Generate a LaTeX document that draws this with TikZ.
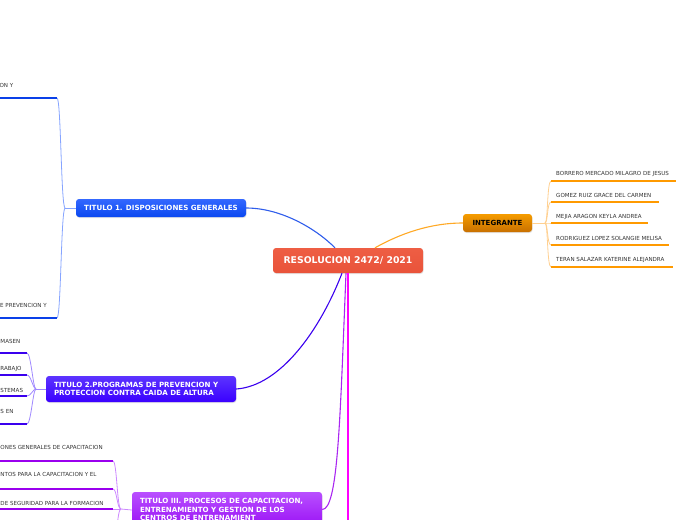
\documentclass[tikz,border=0pt]{standalone}
\usepackage{fontspec}
\setmainfont{DejaVu Sans}
\usetikzlibrary{shadows}
\definecolor{cred}{HTML}{E9533A}
\definecolor{credtop}{HTML}{EE5E44}
\definecolor{bluetop}{HTML}{3468FF}
\definecolor{bluebot}{HTML}{0A48F0}
\definecolor{indtop}{HTML}{5C34FF}
\definecolor{indbot}{HTML}{3A00FF}
\definecolor{purtop}{HTML}{B94FFF}
\definecolor{purbot}{HTML}{9A12F5}
\definecolor{ortop}{HTML}{F59C00}
\definecolor{orbot}{HTML}{C87000}
\definecolor{bluel}{HTML}{0A40E8}
\definecolor{indl}{HTML}{3A00EE}
\definecolor{purl}{HTML}{9A00EE}
\definecolor{orl}{HTML}{FF9A00}
\definecolor{bluebr}{HTML}{86A4FF}
\definecolor{indbr}{HTML}{9F88FF}
\definecolor{purbr}{HTML}{CC88FF}
\definecolor{orbr}{HTML}{FFD090}
\definecolor{labc}{HTML}{333333}
\definecolor{magl}{HTML}{FF00FF}
\begin{document}
\begin{tikzpicture}[x=1pt,y=-1pt,
  topic/.style={rounded corners=3pt, inner sep=0pt, text=white,
    font=\bfseries\fontsize{7.1}{8.4}\selectfont,
    drop shadow={shadow xshift=0.5pt,shadow yshift=-1pt,opacity=0.22}},
  lab/.style={inner sep=0pt, text=labc, font=\fontsize{5.55}{6}\selectfont},
  uline/.style={line width=2.2pt},
  brline/.style={line width=0.8pt},
  mainline/.style={line width=1.1pt}
]
\useasboundingbox (0,0) rectangle (697,520);
\clip (0,0) rectangle (697,520);

\coordinate (mend) at (348,522);

% ---------------- nodes
\node[topic, top color=credtop, bottom color=cred, minimum width=150pt, minimum height=25pt,
  font=\bfseries\fontsize{9.3}{11}\selectfont] (c) at (348,260.5) {RESOLUCION 2472/ 2021};
\node[topic, top color=bluetop, bottom color=bluebot, minimum width=170pt, minimum height=18pt] (t1) at (161,208) {TITULO 1. DISPOSICIONES GENERALES};
\node[topic, top color=indtop, bottom color=indbot, minimum width=190pt, minimum height=26pt,
  text width=174pt, align=left] (t2) at (141,389) {TITULO 2.PROGRAMAS DE PREVENCION Y\\PROTECCION CONTRA CAIDA DE ALTURA};
\node[topic, top color=purtop, bottom color=purbot, minimum width=190pt, minimum height=35pt,
  text width=174pt, align=left] (t3) at (227,509.5) {TITULO III. PROCESOS DE CAPACITACION,\\ENTRENAMIENTO Y GESTION DE LOS\\CENTROS DE ENTRENAMIENT};
\node[topic, top color=ortop, bottom color=orbot, minimum width=69pt, minimum height=18pt, text=black,
  font=\bfseries\fontsize{7}{8}\selectfont] (ig) at (497.5,223) {INTEGRANTE};

% ---------------- main connectors
\draw[mainline, draw=bluel!85!white] (t1.east) .. controls +(34,0) and +(-20,-20) .. ([xshift=-13pt]c.north);
\draw[mainline, draw=orl!85!white] ([xshift=27pt]c.north) .. controls +(25,-14) and +(-33,0) .. (ig.west);
\draw[mainline, draw=indl] (t2.east) .. controls +(44,-3) and +(-22,57) .. ([xshift=-6pt]c.south);
\draw[mainline, draw=purl!85!white] ([xshift=-2pt]c.south) .. controls +(-6,147) and +(16,0) .. (t3.east);
\draw[line width=2pt, draw=magl] (c.south) -- (mend);

% ---------------- INTEGRANTE children
\coordinate (igs) at (545,223);
\foreach \n/\y/\xe in {1/181/676, 2/202/659, 3/223/648, 4/245/669, 5/267/673}{
  \coordinate (i\n) at (551,\y);
  \coordinate (ie\n) at (\xe,\y);
}
\draw[brline, draw=orbr] (ig.east) -- (igs);
\foreach \n in {1,...,5}{
  \draw[brline, draw=orbr] (igs) .. controls +(3,0) and +(-4,0) .. (i\n);
  \draw[uline, draw=orl] (i\n) -- (ie\n);
}
\node[lab, anchor=west] (n1) at (556,174) {BORRERO MERCADO MILAGRO DE JESUS};
\node[lab, anchor=west] (n2) at (556,195) {GOMEZ RUIZ GRACE DEL CARMEN};
\node[lab, anchor=west] (n3) at (556,217) {MEJIA ARAGON KEYLA ANDREA};
\node[lab, anchor=west] (n4) at (556,238) {RODRIGUEZ LOPEZ SOLANGIE MELISA};
\node[lab, anchor=west] (n5) at (556,259.5) {TERAN SALAZAR KATERINE ALEJANDRA};

% ---------------- TITULO 1 children
\coordinate (t1s) at (65,208);
\coordinate (a1) at (57,98);   \coordinate (a1l) at (-2,98);
\coordinate (a2) at (57,318);  \coordinate (a2l) at (-2,318);
\draw[brline, draw=bluebr] (t1.west) -- (t1s);
\draw[brline, draw=bluebr] (t1s) .. controls +(-4,-2) and +(4,0) .. (a1);
\draw[brline, draw=bluebr] (t1s) .. controls +(-4,2) and +(4,0) .. (a2);
\draw[uline, draw=bluel] (a1l) -- (a1);
\draw[uline, draw=bluel] (a2l) -- (a2);
\node[lab, anchor=east] (b1) at (13.5,85) {ON Y};
\node[lab, anchor=east] (b2) at (47,305) {E PREVENCION Y};

% ---------------- TITULO 2 children
\coordinate (t2s) at (36,389);
\draw[brline, draw=indbr] (t2.west) -- (t2s);
\foreach \n/\y in {1/353, 2/375, 3/396, 4/424}{
  \coordinate (p\n) at (27,\y);
  \coordinate (pl\n) at (-2,\y);
  \draw[brline, draw=indbr] (t2s) .. controls +(-3,0) and +(4,0) .. (p\n);
  \draw[uline, draw=indl] (pl\n) -- (p\n);
}
\node[lab, anchor=west] (d1) at (0.3,341) {MASEN};
\node[lab, anchor=west] (d2) at (0.3,369) {RABAJO};
\node[lab, anchor=west] (d3) at (0.3,390) {STEMAS};
\node[lab, anchor=west] (d4) at (0.3,411) {S EN};

% ---------------- TITULO III children
\coordinate (t3s) at (121,509);
\draw[brline, draw=purbr] ([yshift=-0.5pt]t3.west) -- (t3s);
\foreach \n/\y in {1/461, 2/489, 3/509}{
  \coordinate (q\n) at (113,\y);
  \coordinate (ql\n) at (-2,\y);
  \draw[brline, draw=purbr] (t3s) .. controls +(-4,0) and +(4,0) .. (q\n);
  \draw[uline, draw=purl] (ql\n) -- (q\n);
}
\coordinate (q4) at (113,545);
\draw[brline, draw=purbr] (t3s) .. controls +(-4,0) and +(4,0) .. (q4);
\node[lab, anchor=west] (e1) at (0.3,447) {ONES GENERALES DE CAPACITACION};
\node[lab, anchor=west] (e2) at (0.3,474.5) {NTOS PARA LA CAPACITACION Y EL};
\node[lab, anchor=west] (e3) at (0.3,503) {DE SEGURIDAD PARA LA FORMACION};
\end{tikzpicture}
\end{document}
